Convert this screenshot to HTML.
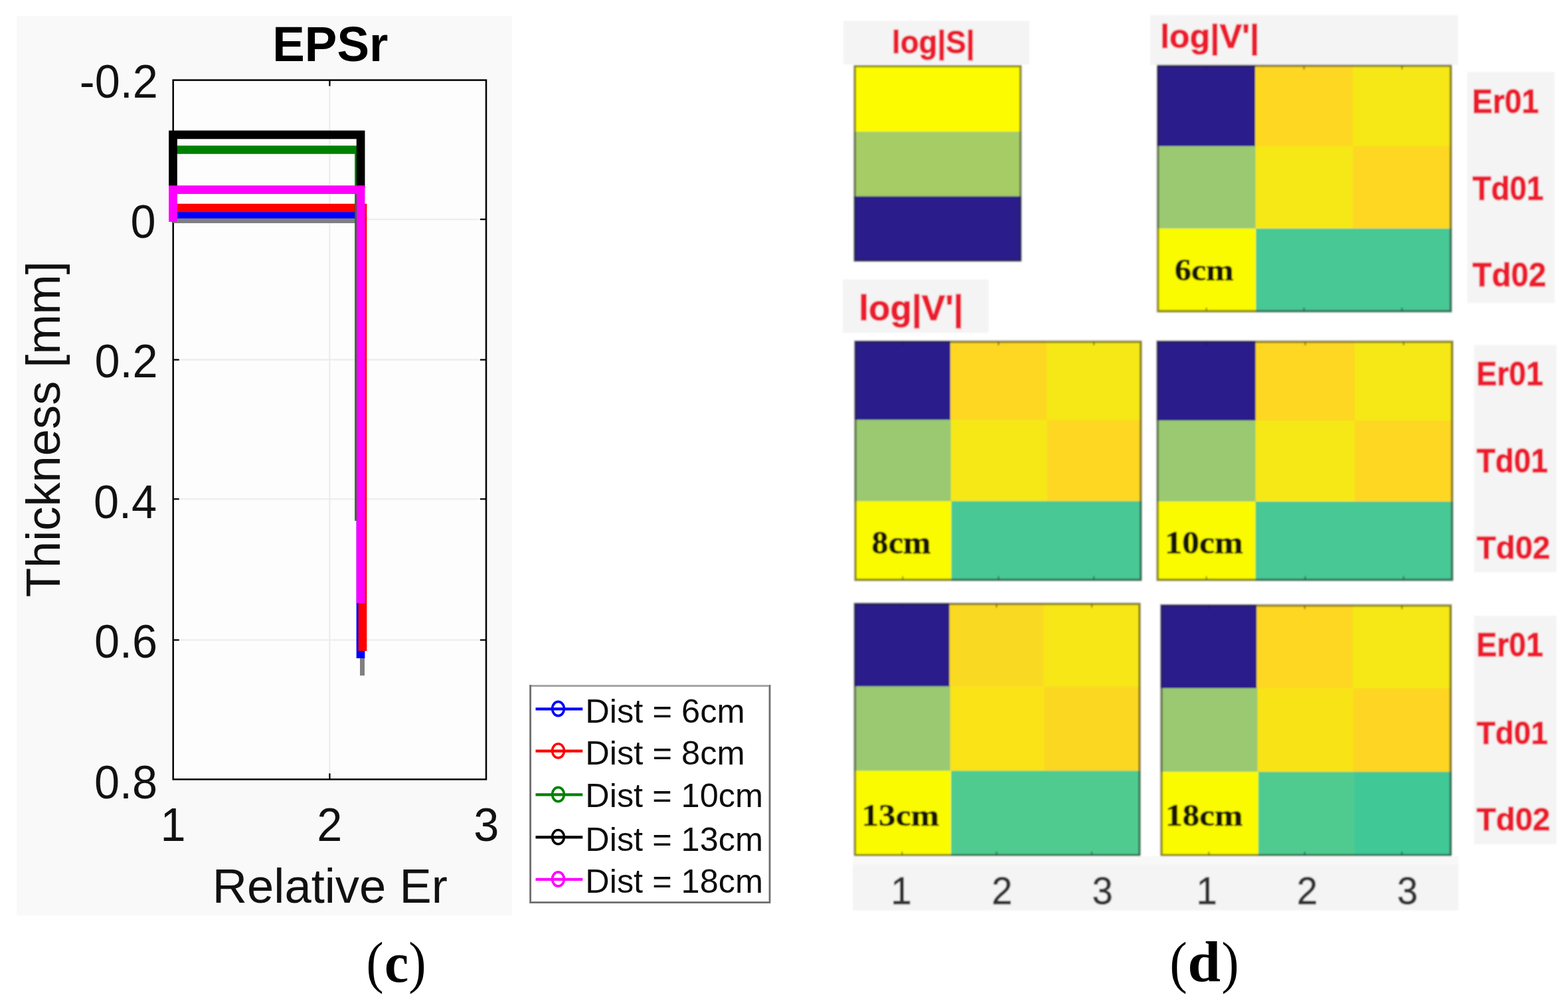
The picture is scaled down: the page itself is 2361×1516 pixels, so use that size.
<!DOCTYPE html>
<html lang="en"><head><meta charset="utf-8"><title>EPSr thickness profile and sensitivity maps</title>
<style>
html,body{margin:0;padding:0;background:#fff;}
body{width:2361px;height:1516px;overflow:hidden;}
svg{display:block;}
text{font-family:"Liberation Sans", Arial, Helvetica, sans-serif;fill:#111;}
.serif{font-family:"Liberation Serif", "Times New Roman", Times, serif;}
.b{font-weight:bold;}
.red{fill:#ec1b2d;stroke:#ec1b2d;stroke-width:1.1px;stroke-linejoin:round;}
.blk{fill:#141405;stroke:#141405;stroke-width:0.8px;}
.ax{fill:#333;stroke:#333;stroke-width:0.9px;}
.k{fill:#000;}
</style></head><body>
<svg width="2361" height="1516" viewBox="0 0 2361 1516">
<defs>
<filter id="bl" x="-5%" y="-5%" width="110%" height="110%"><feGaussianBlur stdDeviation="1.1"/></filter>
<filter id="bl2" x="-5%" y="-5%" width="110%" height="110%"><feGaussianBlur stdDeviation="0.5"/></filter>
<filter id="bl3" x="-5%" y="-5%" width="110%" height="110%"><feGaussianBlur stdDeviation="0.8"/></filter>
</defs>
<rect width="2361" height="1516" fill="#ffffff"/>

<g id="chart">
<rect x="25" y="24" width="746" height="1354.5" fill="#f9f9f9"/>
<rect x="260.7" y="120.6" width="471.3" height="1052.7" fill="#fdfdfd"/>
<line x1="260.7" x2="732" y1="330.2" y2="330.2" stroke="#ececec" stroke-width="2.1"/>
<line x1="260.7" x2="732" y1="541.6" y2="541.6" stroke="#ececec" stroke-width="2.1"/>
<line x1="260.7" x2="732" y1="751.3" y2="751.3" stroke="#ececec" stroke-width="2.1"/>
<line x1="260.7" x2="732" y1="963.5" y2="963.5" stroke="#ececec" stroke-width="2.1"/>
<line x1="496.4" x2="496.4" y1="120.6" y2="1173.3" stroke="#ececec" stroke-width="2.1"/>
<rect x="260.7" y="120.6" width="471.3" height="1052.7" fill="none" stroke="#000" stroke-width="2.5"/>
<line x1="260.7" x2="269.7" y1="330.2" y2="330.2" stroke="#000" stroke-width="2.2"/>
<line x1="723" x2="732" y1="330.2" y2="330.2" stroke="#000" stroke-width="2.2"/>
<line x1="260.7" x2="269.7" y1="541.6" y2="541.6" stroke="#000" stroke-width="2.2"/>
<line x1="723" x2="732" y1="541.6" y2="541.6" stroke="#000" stroke-width="2.2"/>
<line x1="260.7" x2="269.7" y1="751.3" y2="751.3" stroke="#000" stroke-width="2.2"/>
<line x1="723" x2="732" y1="751.3" y2="751.3" stroke="#000" stroke-width="2.2"/>
<line x1="260.7" x2="269.7" y1="963.5" y2="963.5" stroke="#000" stroke-width="2.2"/>
<line x1="723" x2="732" y1="963.5" y2="963.5" stroke="#000" stroke-width="2.2"/>
<line x1="496.4" x2="496.4" y1="120.6" y2="129.6" stroke="#000" stroke-width="2.2"/>
<line x1="496.4" x2="496.4" y1="1164.3" y2="1173.3" stroke="#000" stroke-width="2.2"/>
<path d="M260.7 330.0 L545.5 330.0 L545.5 1017.0" fill="none" stroke="#808080" stroke-width="7" stroke-linejoin="miter"/>
<path d="M260.7 330.0 L540.0 330.0" fill="none" stroke="#808080" stroke-width="12" stroke-linejoin="miter"/>
<path d="M260.7 322.5 L543.0 322.5 L543.0 991.0" fill="none" stroke="#0000ff" stroke-width="12.7" stroke-linejoin="miter"/>
<path d="M260.7 313.0 L546.0 313.0 L546.0 980.0" fill="none" stroke="#ff0000" stroke-width="12.7" stroke-linejoin="miter"/>
<path d="M260.7 225.5 L540.5 225.5 L540.5 784.0" fill="none" stroke="#008000" stroke-width="12.7" stroke-linejoin="miter"/>
<path d="M260.5 280.0 L260.5 202.8 L543.1 202.8 L543.1 283.0" fill="none" stroke="#000000" stroke-width="12.7" stroke-linejoin="miter"/>
<path d="M260.5 334.0 L260.5 285.6 L543.1 285.6 L543.1 908.0" fill="none" stroke="#ff00ff" stroke-width="12.7" stroke-linejoin="miter"/>
<text class="" transform="translate(119.83,146.60) scale(1,1.0200)" font-size="68.50" text-anchor="start">-0.2</text>
<text class="" transform="translate(196.55,357.80) scale(1,1.0200)" font-size="68.50" text-anchor="start">0</text>
<text class="" transform="translate(142.51,567.60) scale(1,1.0200)" font-size="68.50" text-anchor="start">0.2</text>
<text class="" transform="translate(140.97,780.30) scale(1,1.0200)" font-size="68.50" text-anchor="start">0.4</text>
<text class="" transform="translate(142.00,989.60) scale(1,1.0200)" font-size="68.50" text-anchor="start">0.6</text>
<text class="" transform="translate(141.90,1201.60) scale(1,1.0200)" font-size="68.50" text-anchor="start">0.8</text>
<text class="" transform="translate(260.50,1266.20) scale(1,1.0200)" font-size="68.50" text-anchor="middle">1</text>
<text class="" transform="translate(496.30,1266.20) scale(1,1.0200)" font-size="68.50" text-anchor="middle">2</text>
<text class="" transform="translate(732.30,1266.20) scale(1,1.0200)" font-size="68.50" text-anchor="middle">3</text>
<text class="b k" transform="translate(410.28,91.90) scale(1,1.0214)" font-size="72.85">EPSr</text>
<text class="" transform="translate(319.78,1358.80) scale(1,0.9946)" font-size="72.39">Relative Er</text>
<text transform="translate(90.2,899.03) rotate(-90) scale(1,1.0039)" font-size="72.27">Thickness [mm]</text>
</g>
<g id="legend" filter="url(#bl2)">
<rect x="798.6" y="1032.4" width="360.4" height="326.2" fill="#ffffff" stroke="#6e6e6e" stroke-width="2.8"/>
<line x1="800" x2="1158" y1="1032.4" y2="1032.4" stroke="#a8a8a8" stroke-width="2.8"/>
<line x1="806.5" x2="877.3" y1="1067.3" y2="1067.3" stroke="#0000ff" stroke-width="4.3"/>
<ellipse cx="840.5" cy="1067.0" rx="8.9" ry="10.6" fill="#fff" stroke="#0000ff" stroke-width="3.6"/>
<line x1="831" x2="850" y1="1067.3" y2="1067.3" stroke="#0000ff" stroke-width="4.3"/>
<text class="" transform="translate(881.23,1088.00) scale(1,0.9922)" font-size="50.60">Dist = 6cm</text>
<line x1="806.5" x2="877.3" y1="1130.6" y2="1130.6" stroke="#ff0000" stroke-width="4.3"/>
<ellipse cx="840.5" cy="1130.3" rx="8.9" ry="10.6" fill="#fff" stroke="#ff0000" stroke-width="3.6"/>
<line x1="831" x2="850" y1="1130.6" y2="1130.6" stroke="#ff0000" stroke-width="4.3"/>
<text class="" transform="translate(881.23,1151.30) scale(1,0.9922)" font-size="50.60">Dist = 8cm</text>
<line x1="806.5" x2="877.3" y1="1196.3" y2="1196.3" stroke="#008000" stroke-width="4.3"/>
<ellipse cx="840.5" cy="1196.0" rx="8.9" ry="10.6" fill="#fff" stroke="#008000" stroke-width="3.6"/>
<line x1="831" x2="850" y1="1196.3" y2="1196.3" stroke="#008000" stroke-width="4.3"/>
<text class="" transform="translate(881.24,1214.80) scale(1,0.9953)" font-size="50.45">Dist = 10cm</text>
<line x1="806.5" x2="877.3" y1="1260.4" y2="1260.4" stroke="#000000" stroke-width="4.3"/>
<ellipse cx="840.5" cy="1260.1000000000001" rx="8.9" ry="10.6" fill="#fff" stroke="#000000" stroke-width="3.6"/>
<line x1="831" x2="850" y1="1260.4" y2="1260.4" stroke="#000000" stroke-width="4.3"/>
<text class="" transform="translate(881.24,1281.00) scale(1,0.9953)" font-size="50.45">Dist = 13cm</text>
<line x1="806.5" x2="877.3" y1="1323.8" y2="1323.8" stroke="#ff00ff" stroke-width="4.3"/>
<ellipse cx="840.5" cy="1323.5" rx="8.9" ry="10.6" fill="#fff" stroke="#ff00ff" stroke-width="3.6"/>
<line x1="831" x2="850" y1="1323.8" y2="1323.8" stroke="#ff00ff" stroke-width="4.3"/>
<text class="" transform="translate(881.24,1344.10) scale(1,0.9953)" font-size="50.45">Dist = 18cm</text>
</g>
<g id="maps" filter="url(#bl)">
<rect x="1270" y="31.5" width="280" height="65.5" fill="#f4f4f4"/>
<text class="b red" transform="translate(1343.00,79.62) scale(1,1.0390)" font-size="45.69">log|S|</text>
<rect x="1286.6" y="99" width="250.6" height="99.5" fill="#fcfb06"/>
<rect x="1286.6" y="198.1" width="250.6" height="98" fill="#a6cc66"/>
<rect x="1286.6" y="295.6" width="250.6" height="97.1" fill="#291f8b"/>
<rect x="1287.1" y="99.5" width="249.60000000000014" height="292.7" fill="none" stroke="#1a1a1a" stroke-opacity="0.5" stroke-width="3.6"/>
<rect x="1732" y="23" width="463.5" height="75" fill="#f4f4f4"/>
<text class="b red" transform="translate(1746.88,71.92) scale(1,1.0058)" font-size="50.35">log|V'|</text>
<rect x="1743.0" y="98.5" width="147.5" height="122.0" fill="#291f8b"/>
<rect x="1890.0" y="98.5" width="147.5" height="122.0" fill="#fdd720"/>
<rect x="2037.0" y="98.5" width="148.5" height="122.0" fill="#f6e814"/>
<rect x="1743.0" y="220" width="148.0" height="124.5" fill="#9bc971"/>
<rect x="1890.5" y="220" width="147.2" height="124.5" fill="#f6e814"/>
<rect x="2037.2" y="220" width="148.2" height="124.5" fill="#fdd720"/>
<rect x="1743.0" y="344" width="148.5" height="125.5" fill="#fbfb06"/>
<rect x="1891.0" y="344" width="147.0" height="125.5" fill="#47c895"/>
<rect x="2037.5" y="344" width="148.0" height="125.5" fill="#47c895"/>
<rect x="1743.5" y="99.0" width="441" height="369.5" fill="none" stroke="#1a1a1a" stroke-opacity="0.5" stroke-width="3.6"/>
<path d="M1816.5 99.5 v5 M1816.5 468 v-5" stroke="#1a1a1a" stroke-opacity="0.4" stroke-width="2.4" fill="none"/>
<path d="M1963.5 99.5 v5 M1963.5 468 v-5" stroke="#1a1a1a" stroke-opacity="0.4" stroke-width="2.4" fill="none"/>
<path d="M2111.0 99.5 v5 M2111.0 468 v-5" stroke="#1a1a1a" stroke-opacity="0.4" stroke-width="2.4" fill="none"/>
<text class="serif b blk" transform="translate(1768.85,421.82) scale(1,0.9139)" font-size="49.91">6cm</text>
<rect x="2209.5" y="108.3" width="131.0999999999999" height="347.7" fill="#f4f4f4"/>
<text class="b red" transform="translate(2216.47,169.82) scale(1,1.0755)" font-size="46.42">Er01</text>
<text class="b red" transform="translate(2217.14,301.22) scale(1,1.1039)" font-size="45.88">Td01</text>
<text class="b red" transform="translate(2217.12,431.12) scale(1,1.0434)" font-size="47.61">Td02</text>
<rect x="1269" y="420.6" width="219.5" height="80.39999999999998" fill="#f4f4f4"/>
<text class="b red" transform="translate(1293.28,481.62) scale(1,0.9950)" font-size="53.12">log|V'|</text>
<rect x="1287.5" y="514" width="144.0" height="118.5" fill="#291f8b"/>
<rect x="1431.0" y="514" width="145.5" height="118.5" fill="#fdd720"/>
<rect x="1576.0" y="514" width="142.7" height="118.5" fill="#f6e814"/>
<rect x="1287.5" y="632" width="144.8" height="123.0" fill="#9bc971"/>
<rect x="1431.8" y="632" width="145.1" height="123.0" fill="#f6e814"/>
<rect x="1576.4" y="632" width="142.3" height="123.0" fill="#fdd720"/>
<rect x="1287.5" y="754.5" width="145.5" height="119.4" fill="#fbfb06"/>
<rect x="1432.5" y="754.5" width="144.8" height="119.4" fill="#47c895"/>
<rect x="1576.8" y="754.5" width="142.0" height="119.4" fill="#47c895"/>
<rect x="1288.0" y="514.5" width="429.70000000000005" height="358.4" fill="none" stroke="#1a1a1a" stroke-opacity="0.5" stroke-width="3.6"/>
<path d="M1359.2 515 v5 M1359.2 872.4 v-5" stroke="#1a1a1a" stroke-opacity="0.4" stroke-width="2.4" fill="none"/>
<path d="M1503.5 515 v5 M1503.5 872.4 v-5" stroke="#1a1a1a" stroke-opacity="0.4" stroke-width="2.4" fill="none"/>
<path d="M1647.1 515 v5 M1647.1 872.4 v-5" stroke="#1a1a1a" stroke-opacity="0.4" stroke-width="2.4" fill="none"/>
<text class="serif b blk" transform="translate(1312.57,833.02) scale(1,0.9575)" font-size="50.13">8cm</text>
<rect x="1742.5" y="514" width="148.5" height="119.5" fill="#291f8b"/>
<rect x="1890.5" y="514" width="150.0" height="119.5" fill="#fdd720"/>
<rect x="2040.0" y="514" width="147.5" height="119.5" fill="#f6e814"/>
<rect x="1742.5" y="633" width="148.5" height="122.5" fill="#9bc971"/>
<rect x="1890.5" y="633" width="150.0" height="122.5" fill="#f6e814"/>
<rect x="2040.0" y="633" width="147.5" height="122.5" fill="#fdd720"/>
<rect x="1742.5" y="755" width="148.5" height="118.9" fill="#fbfb06"/>
<rect x="1890.5" y="755" width="150.0" height="118.9" fill="#47c895"/>
<rect x="2040.0" y="755" width="147.5" height="118.9" fill="#47c895"/>
<rect x="1743.0" y="514.5" width="443.5" height="358.4" fill="none" stroke="#1a1a1a" stroke-opacity="0.5" stroke-width="3.6"/>
<path d="M1816.5 515 v5 M1816.5 872.4 v-5" stroke="#1a1a1a" stroke-opacity="0.4" stroke-width="2.4" fill="none"/>
<path d="M1965.2 515 v5 M1965.2 872.4 v-5" stroke="#1a1a1a" stroke-opacity="0.4" stroke-width="2.4" fill="none"/>
<path d="M2113.5 515 v5 M2113.5 872.4 v-5" stroke="#1a1a1a" stroke-opacity="0.4" stroke-width="2.4" fill="none"/>
<text class="serif b blk" transform="translate(1754.06,833.02) scale(1,0.9285)" font-size="51.70">10cm</text>
<rect x="2219.5" y="519.5" width="124.19999999999982" height="342.0" fill="#f4f4f4"/>
<text class="b red" transform="translate(2223.07,579.82) scale(1,1.0755)" font-size="46.42">Er01</text>
<text class="b red" transform="translate(2223.44,711.22) scale(1,1.0898)" font-size="45.97">Td01</text>
<text class="b red" transform="translate(2223.43,841.12) scale(1,1.0318)" font-size="47.48">Td02</text>
<rect x="1286.8" y="908.7" width="143.2" height="125.1" fill="#291f8b"/>
<rect x="1429.5" y="908.7" width="142.5" height="125.1" fill="#fad921"/>
<rect x="1571.5" y="908.7" width="145.3" height="125.1" fill="#f7e714"/>
<rect x="1286.8" y="1033.3" width="144.5" height="127.6" fill="#9bc971"/>
<rect x="1430.8" y="1033.3" width="141.9" height="127.6" fill="#fae316"/>
<rect x="1572.1" y="1033.3" width="144.7" height="127.6" fill="#fcd720"/>
<rect x="1286.8" y="1160.4" width="145.7" height="128.1" fill="#fbfb06"/>
<rect x="1432.0" y="1160.4" width="141.2" height="128.1" fill="#50cb8f"/>
<rect x="1572.8" y="1160.4" width="144.0" height="128.1" fill="#50cb8f"/>
<rect x="1287.3" y="909.2" width="428.5" height="378.29999999999995" fill="none" stroke="#1a1a1a" stroke-opacity="0.5" stroke-width="3.6"/>
<path d="M1358.2 909.7 v5 M1358.2 1287 v-5" stroke="#1a1a1a" stroke-opacity="0.4" stroke-width="2.4" fill="none"/>
<path d="M1500.5 909.7 v5 M1500.5 1287 v-5" stroke="#1a1a1a" stroke-opacity="0.4" stroke-width="2.4" fill="none"/>
<path d="M1643.9 909.7 v5 M1643.9 1287 v-5" stroke="#1a1a1a" stroke-opacity="0.4" stroke-width="2.4" fill="none"/>
<text class="serif b blk" transform="translate(1297.50,1242.72) scale(1,0.8932)" font-size="51.24">13cm</text>
<rect x="1748.3" y="911.0" width="144.4" height="125.5" fill="#291f8b"/>
<rect x="1892.2" y="911.0" width="145.3" height="125.5" fill="#fdd722"/>
<rect x="2037.0" y="911.0" width="148.3" height="125.5" fill="#f5e814"/>
<rect x="1748.3" y="1036" width="145.7" height="126.3" fill="#9bc971"/>
<rect x="1893.5" y="1036" width="144.7" height="126.3" fill="#f8e316"/>
<rect x="2037.6" y="1036" width="147.7" height="126.3" fill="#fdd520"/>
<rect x="1748.3" y="1161.8" width="146.9" height="126.7" fill="#fbfb06"/>
<rect x="1894.7" y="1161.8" width="144.0" height="126.7" fill="#50cb8f"/>
<rect x="2038.2" y="1161.8" width="147.1" height="126.7" fill="#41c896"/>
<rect x="1748.8" y="911.5" width="435.5000000000002" height="376.0" fill="none" stroke="#1a1a1a" stroke-opacity="0.5" stroke-width="3.6"/>
<path d="M1820.2 912.0 v5 M1820.2 1287 v-5" stroke="#1a1a1a" stroke-opacity="0.4" stroke-width="2.4" fill="none"/>
<path d="M1964.6 912.0 v5 M1964.6 1287 v-5" stroke="#1a1a1a" stroke-opacity="0.4" stroke-width="2.4" fill="none"/>
<path d="M2110.9 912.0 v5 M2110.9 1287 v-5" stroke="#1a1a1a" stroke-opacity="0.4" stroke-width="2.4" fill="none"/>
<text class="serif b blk" transform="translate(1754.90,1242.82) scale(1,0.8936)" font-size="51.19">18cm</text>
<rect x="2219.5" y="927" width="124.19999999999982" height="344" fill="#f4f4f4"/>
<text class="b red" transform="translate(2223.07,987.82) scale(1,1.0570)" font-size="46.42">Er01</text>
<text class="b red" transform="translate(2223.44,1119.52) scale(1,1.0598)" font-size="45.97">Td01</text>
<text class="b red" transform="translate(2223.43,1249.62) scale(1,1.0260)" font-size="47.48">Td02</text>
<rect x="1284" y="1289" width="912" height="14" fill="#f8f8f8"/>
<rect x="1284" y="1302" width="912" height="68.59999999999991" fill="#f4f4f4"/>
<text class="ax" transform="translate(1357.10,1360.60) scale(1,1.0200)" font-size="56.00" text-anchor="middle">1</text>
<text class="ax" transform="translate(1508.90,1360.60) scale(1,1.0200)" font-size="56.00" text-anchor="middle">2</text>
<text class="ax" transform="translate(1660.00,1360.60) scale(1,1.0200)" font-size="56.00" text-anchor="middle">3</text>
<text class="ax" transform="translate(1817.10,1360.60) scale(1,1.0200)" font-size="56.00" text-anchor="middle">1</text>
<text class="ax" transform="translate(1968.40,1360.60) scale(1,1.0200)" font-size="56.00" text-anchor="middle">2</text>
<text class="ax" transform="translate(2119.20,1360.60) scale(1,1.0200)" font-size="56.00" text-anchor="middle">3</text>
</g>
<g id="caps" filter="url(#bl2)">
<text class="serif k"><tspan x="551.57" y="1478.10" font-size="86.19" textLength="26.12" lengthAdjust="spacingAndGlyphs">(</tspan><tspan x="578.95" y="1477.80" font-size="84.89" font-weight="bold" textLength="36.20" lengthAdjust="spacingAndGlyphs">c</tspan><tspan x="615.23" y="1478.10" font-size="86.19" textLength="26.38" lengthAdjust="spacingAndGlyphs">)</tspan></text>
<text class="serif k"><tspan x="1761.33" y="1478.10" font-size="86.19" textLength="26.38" lengthAdjust="spacingAndGlyphs">(</tspan><tspan x="1788.33" y="1477.00" font-size="87.77" font-weight="bold" textLength="49.67" lengthAdjust="spacingAndGlyphs">d</tspan><tspan x="1839.24" y="1478.10" font-size="86.19" textLength="26.25" lengthAdjust="spacingAndGlyphs">)</tspan></text>
</g>
</svg></body></html>
